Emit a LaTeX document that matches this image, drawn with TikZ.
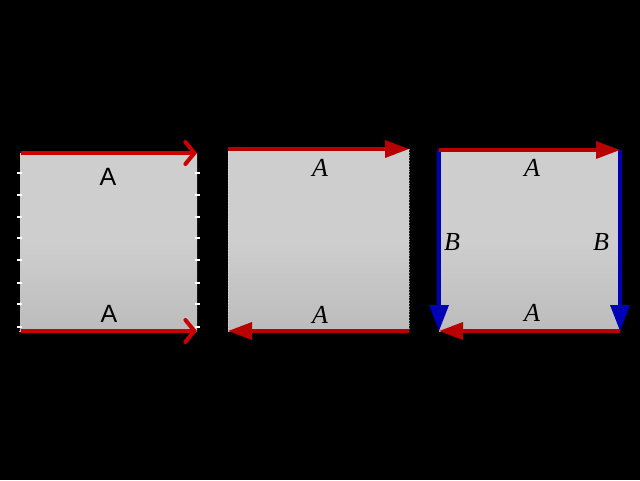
\documentclass[tikz,border=0pt]{standalone}
\usepackage{fontspec}
\setmainfont{Liberation Serif}
\newfontfamily\sansA{Liberation Sans}
\usetikzlibrary{arrows.meta}
\definecolor{redA}{RGB}{205,0,0}
\definecolor{redB}{RGB}{185,0,0}
\definecolor{blueB}{RGB}{0,0,185}
\definecolor{sqtop}{RGB}{206,206,206}
\definecolor{sqbot}{RGB}{188,188,188}
\tikzset{
  sq/.style={top color=sqtop, bottom color=sqbot, middle color=sqtop, draw=none},
  openarr/.style={draw=redA, line width=4pt, -{Straight Barb[length=9pt,width=22pt,line cap=round]}},
  redarr/.style={draw=redB, line width=3.5pt, -{Triangle[length=24pt,width=17pt]}},
  bluearr/.style={draw=blueB, line width=3.5pt, -{Triangle[length=26pt,width=19pt]}},
  sanslab/.style={font=\sansA\fontsize{25}{25}\selectfont, text=black, inner sep=0pt},
  itlab/.style={font=\itshape\fontsize{26}{26}\selectfont, text=black, inner sep=0pt},
  tick/.style={draw=white, line width=2.5pt}
}
\begin{document}
\begin{tikzpicture}[x=1pt,y=-1pt]
\useasboundingbox[fill=black] (0,0) rectangle (640,480);
% square 1
\fill[sq] (19,153) rectangle (197,331);
\coordinate (a1) at (21,153);
\coordinate (b1) at (197,153);
\coordinate (c1) at (21,331);
\coordinate (d1) at (197,331);
\draw[black, line width=2pt] (19,153) -- (19,331);
\foreach \y in {173,195,217,238,260,283,304,327}{
  \draw[tick] (17,\y) -- (22,\y);
  \draw[tick] (195,\y) -- (200,\y);
}
\draw[openarr] (a1) -- (b1);
\draw[openarr] (c1) -- (d1);
\node[sanslab] (l1a) at (108,177) {A};
\node[sanslab] (l1b) at (109,314) {A};
% square 2
\fill[sq] (228,149) rectangle (409,331);
\draw[white, opacity=0.5, line width=0.8pt, dotted] (228,149) -- (228,331);
\draw[white, opacity=0.5, line width=0.8pt, dotted] (409,149) -- (409,331);
\coordinate (a2) at (228,149);
\coordinate (b2) at (409,149);
\coordinate (c2) at (228,331);
\coordinate (d2) at (409,331);
\draw[redarr] (a2) -- (b2);
\draw[redarr] (d2) -- (c2);
\node[itlab] (l2a) at (320,168) {A};
\node[itlab] (l2b) at (320,315) {A};
% square 3
\fill[sq] (439,150) rectangle (620,331);
\coordinate (a3) at (439,150);
\coordinate (b3) at (620,150);
\coordinate (c3) at (439,331);
\coordinate (d3) at (620,331);
\draw[bluearr] (a3) -- (c3);
\draw[bluearr] (b3) -- (d3);
\draw[redarr] (a3) -- (b3);
\draw[redarr] (d3) -- (c3);
\node[itlab] (l3a) at (532,168) {A};
\node[itlab] (l3b) at (532,313) {A};
\node[itlab] (l3c) at (452,242) {B};
\node[itlab] (l3d) at (601,242) {B};
\end{tikzpicture}
\end{document}
